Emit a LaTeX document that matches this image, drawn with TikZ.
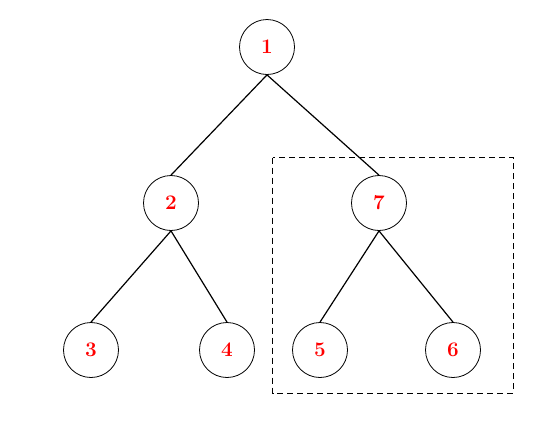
\documentclass[tikz,border=0pt]{standalone}
\begin{document}
\begin{tikzpicture}[x=1pt,y=-1pt,
  tnode/.style={circle,draw,line width=0.8pt,minimum size=55pt,inner sep=0pt,text=red,font=\huge\bfseries},
  tedge/.style={line width=1.2pt}]
\useasboundingbox (0,0) rectangle (551,424);
\node[tnode] (n1) at (267,47) {1};
\node[tnode] (n2) at (171,203) {2};
\node[tnode] (n7) at (379,203) {7};
\node[tnode] (n3) at (91,350) {3};
\node[tnode] (n4) at (227,350) {4};
\node[tnode] (n5) at (320,350) {5};
\node[tnode] (n6) at (453,350) {6};
\draw[tedge] (n1.south) -- (n2.north);
\draw[tedge] (n1.south) -- (n7.north);
\draw[tedge] (n2.south) -- (n3.north);
\draw[tedge] (n2.south) -- (n4.north);
\draw[tedge] (n7.south) -- (n5.north);
\draw[tedge] (n7.south) -- (n6.north);
\coordinate (bl) at (272.5,157.5);
\coordinate (tr) at (513,393);
\draw[dashed,line width=0.8pt,dash pattern=on 6pt off 4pt] (bl) rectangle (tr);
\end{tikzpicture}
\end{document}
